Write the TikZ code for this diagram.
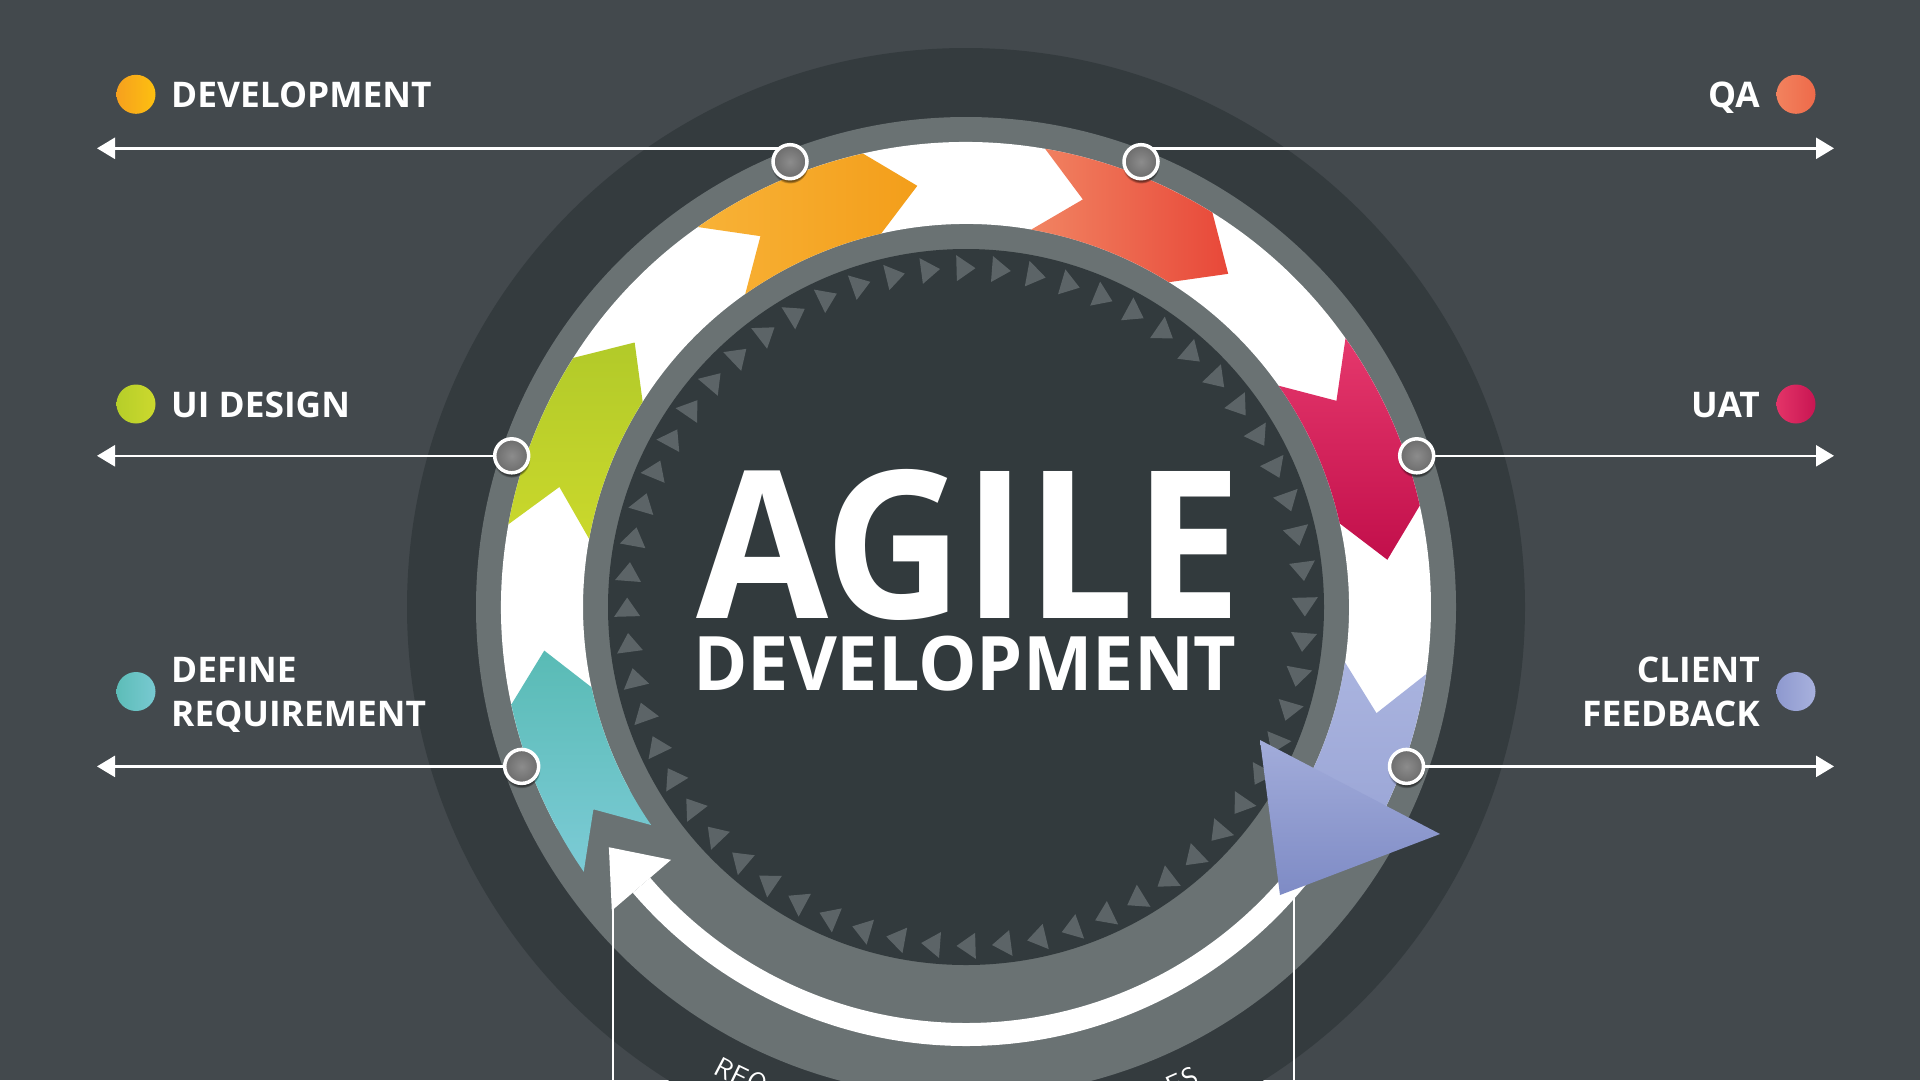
\documentclass[tikz,border=0pt]{standalone}
\usepackage{fontspec}
\setmainfont{Open Sans}
\usetikzlibrary{calc,arrows.meta,shadows}
\definecolor{bg}{HTML}{43494D}
\definecolor{outerdisk}{HTML}{343B3E}
\definecolor{ringgrey}{HTML}{6A7273}
\definecolor{innerdisk}{HTML}{323A3D}
\definecolor{trigrey}{HTML}{5C6467}
\definecolor{devA}{HTML}{F8B237}
\definecolor{devB}{HTML}{FDC113}
\definecolor{devC}{HTML}{F39E1A}
\definecolor{qaA}{HTML}{F18462}
\definecolor{qaB}{HTML}{E84839}
\definecolor{uiA}{HTML}{B2CA29}
\definecolor{uiB}{HTML}{CAD82C}
\definecolor{uatA}{HTML}{E5386C}
\definecolor{uatB}{HTML}{C20F4B}
\definecolor{tealA}{HTML}{59BBB5}
\definecolor{tealB}{HTML}{7CCBD6}
\definecolor{purA}{HTML}{AAB4DF}
\definecolor{purM}{HTML}{9CA7D7}
\definecolor{purH1}{HTML}{A2ACDA}
\definecolor{purH2}{HTML}{7E8BC5}
\definecolor{nodeinner}{HTML}{8C8C8C}
\definecolor{nodeouter}{HTML}{6C6C6C}
\definecolor{dotdevA}{HTML}{F6A01E}
\definecolor{dotdevB}{HTML}{FDC010}
\definecolor{dotqaA}{HTML}{EE6A4A}
\definecolor{dotqaB}{HTML}{F2825E}
\definecolor{dotuiA}{HTML}{B6CE29}
\definecolor{dotuiB}{HTML}{CCD92E}
\definecolor{dotuatA}{HTML}{E33468}
\definecolor{dotuatB}{HTML}{C81552}
\definecolor{dottealA}{HTML}{5DBDB8}
\definecolor{dottealB}{HTML}{78C9D1}
\definecolor{dotpurA}{HTML}{8E99CF}
\definecolor{dotpurB}{HTML}{A8B1DD}
\newcommand\chevronshape[3]{%
  \path[#3] ($(C)+(#1:465)$) -- ($(C)+({#1-6.2}:424)$) -- ($(C)+(#1:383)$)
    arc[start angle=#1, end angle=#2, radius=383]
    -- ($(C)+({#2-6.2}:424)$) -- ($(C)+(#2:465)$)
    arc[start angle=#2, end angle=#1, radius=465] -- cycle;}
\begin{document}
\begin{tikzpicture}[x=1pt,y=1pt,
  ringnode/.style={circle, draw=white, line width=3.5pt, minimum size=34pt, inner sep=0pt,
    inner color=nodeinner, outer color=nodeouter,
    circular drop shadow={shadow xshift=0pt, shadow yshift=-3pt, shadow scale=1.1, fill=black, opacity=0.55}},
  conn/.style={draw=white, line width=2.5pt, -{Triangle[length=18pt,width=21pt]}},
  dot/.style={circle, minimum size=39pt, inner sep=0pt},
  lbl/.style={text=white, inner sep=0pt, font=\bfseries\fontsize{35.3}{42}\selectfont},
  arcletter/.style={text=white, inner sep=0pt, font=\sffamily\fontsize{28}{28}\selectfont}]
\useasboundingbox (0,0) rectangle (1920,-1080);
\clip (0,0) rectangle (1920,-1080);
\fill[bg] (0,0) rectangle (1920,-1080);
\coordinate (C) at (966,-607);
% discs and rings
\fill[outerdisk] (C) circle[radius=559];
\fill[ringgrey] (C) circle[radius=490];
\fill[white] ($(C)+(208.5:465)$) arc[start angle=208.5, end angle=-28, radius=465]
  -- ($(C)+(-28:383)$) arc[start angle=-28, end angle=208.5, radius=383] -- cycle;
% coloured arrows
\chevronshape{214.7}{192.1}{top color=tealA, bottom color=tealB}
\chevronshape{169.75}{147.6}{top color=uiA, bottom color=uiB}
\chevronshape{125.2}{102.8}{left color=devA, middle color=devB, right color=devC}
\chevronshape{80.2}{58.0}{left color=qaA, right color=qaB}
\chevronshape{35.3}{12.6}{top color=uatA, bottom color=uatB}
\path[top color=purA, bottom color=purM] ($(C)+(-8.3:465)$) -- ($(C)+(-14.5:424)$) -- ($(C)+(-8.3:383)$)
  arc[start angle=-8.3, end angle=-26, radius=383] -- ($(C)+(-26:465)$)
  arc[start angle=-26, end angle=-8.3, radius=465] -- cycle;
% inner disc and triangles
\fill[innerdisk] (C) circle[radius=358];
\foreach \a in {0,6,...,354}{
  \fill[trigrey] ($(C)+({90+\a+1.6}:326)$) -- ($(C)+({90+\a+1.6}:352)$) -- ($(C)+({90+\a-1.6}:339)$) -- cycle;}
% white return arrow
\draw[white, line width=23pt] ($(C)+(-36:427.5)$) arc[start angle=-36, end angle=-139.4, radius=427.5];
\fill[white] ($(C)+(220.6:388.5)$) -- ($(C)+(220.6:466.5)$) -- ($(C)+(220.6:427.5)+(130.6:50)$) -- cycle;
\draw[white, line width=2pt] (613,-908) -- (613,-1080);
\draw[white, line width=2pt] (1294,-893) -- (1294,-1080);
% client feedback arrow head
\path[top color=purH1, bottom color=purH2] (1260,-740) -- (1440,-834) -- (1280,-895) -- cycle;
% title
\node[text=white, inner sep=0pt, anchor=base west] (agile) at (696,-618.3)
  {\resizebox{546pt}{149pt}{\bfseries AGILE}};
\node[text=white, inner sep=0pt, anchor=base west] (agiledev) at (693,-690)
  {\resizebox{543pt}{54.5pt}{\bfseries DEVELOPMENT}};
% curved text fragments at the bottom
\foreach \ang/\ch in {242.35/R,244.3/E,246.3/Q,293.6/E,295.5/S}
  \node[arcletter, rotate=\ang+90] at ($(C)+(\ang:521)$) {\ch};
% connectors
\coordinate (pdev) at (790,-161.7);   \coordinate (adev) at (97,-148.3);
\coordinate (pqa)  at (1141,-161.7);  \coordinate (aqa)  at (1834,-148.3);
\coordinate (pui)  at (511.7,-455.8); \coordinate (aui)  at (97,-455.8);
\coordinate (puat) at (1416.7,-455.8);\coordinate (auat) at (1834,-455.8);
\coordinate (pdef) at (521.7,-766.4); \coordinate (adef) at (97,-766.4);
\coordinate (pcf)  at (1406.5,-766.4);\coordinate (acf)  at (1834,-766.4);
\draw[conn] (pdev |- adev) -- (adev);
\draw[conn] (pqa |- aqa) -- (aqa);
\draw[conn] (pui) -- (aui);
\draw[conn] (puat) -- (auat);
\draw[conn] (pdef) -- (adef);
\draw[conn] (pcf) -- (acf);
\node[ringnode] (ndev) at (pdev) {};
\node[ringnode] (nqa)  at (pqa) {};
\node[ringnode] (nui)  at (pui) {};
\node[ringnode] (nuat) at (puat) {};
\node[ringnode] (ndef) at (pdef) {};
\node[ringnode] (ncf)  at (pcf) {};
% labels
\node[dot, left color=dotdevA, right color=dotdevB] (ddev) at (136,-94.3) {};
\node[lbl, anchor=base west] (tdev) at (171,-107.7) {DEVELOPMENT};
\node[dot, left color=dotqaB, right color=dotqaA] (dqa) at (1796,-94.3) {};
\node[lbl, anchor=base east] (tqa) at (1760,-107.7) {QA};
\node[dot, left color=dotuiA, right color=dotuiB] (dui) at (136,-404) {};
\node[lbl, anchor=base west] (tui) at (171,-417.4) {UI DESIGN};
\node[dot, left color=dotuatA, right color=dotuatB] (duat) at (1796,-404) {};
\node[lbl, anchor=base east] (tuat) at (1760,-417.4) {UAT};
\node[dot, left color=dottealA, right color=dottealB] (ddef) at (136,-691.5) {};
\node[lbl, anchor=base west] (tdefa) at (171,-682.3) {DEFINE};
\node[lbl, anchor=base west] (tdefb) at (171,-726.4) {REQUIREMENT};
\node[dot, left color=dotpurA, right color=dotpurB] (dcf) at (1796,-691.5) {};
\node[lbl, anchor=base east] (tcfa) at (1760,-682.3) {CLIENT};
\node[lbl, anchor=base east] (tcfb) at (1760,-726.4) {FEEDBACK};
\end{tikzpicture}
\end{document}
